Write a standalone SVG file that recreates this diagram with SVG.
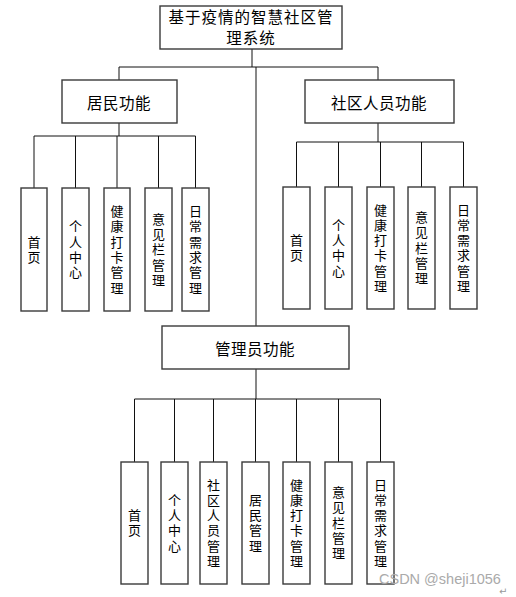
<svg xmlns="http://www.w3.org/2000/svg" width="516" height="597" viewBox="0 0 516 597">
<style>
.box{fill:#fff;stroke:#3a3a3a;stroke-width:1.4}
.ln{stroke:#111;stroke-width:1;fill:none}
.t{font-family:"Noto Sans CJK SC","Liberation Sans",sans-serif;fill:#000;text-anchor:middle}
.h{font-size:15.5px;dominant-baseline:central}
.v{font-size:13px;writing-mode:vertical-rl;text-orientation:upright;letter-spacing:2.3px}
.wm{font-family:"Liberation Sans",Arial,sans-serif;font-size:14.5px;fill:#aaa}
</style>
<rect width="516" height="597" fill="#fff"/>
<g id="connectors">
<path class="ln" d="M252 49V67M119 67H378M119 67V80M378 67V80M256 67V326"/>
<path class="ln" d="M119 123V136M34 136H195.5M34 136V188M75.5 136V188M117 136V188M158.5 136V188M195.5 136V188"/>
<path class="ln" d="M378 123V142M296.5 142H463.5M296.5 142V187M338.5 142V187M380.5 142V187M421.5 142V187M463.5 142V187"/>
<path class="ln" d="M256 369V399M134.5 399H380.5M134.5 399V462M174.5 399V462M213.5 399V462M255.5 399V462M296.5 399V462M338.5 399V462M380.5 399V462"/>
</g>
<g id="root"><rect class="box" x="160" y="6" width="182" height="43"/><text class="t h" x="251" y="16" letter-spacing="1">基于疫情的智慧社区管</text><text class="t h" x="251" y="37" letter-spacing="1">理系统</text></g>
<g id="resident"><rect class="box" x="62" y="80" width="115" height="43"/><text class="t h" x="119" y="102" letter-spacing="0.5">居民功能</text></g>
<g id="staff"><rect class="box" x="305" y="80" width="149" height="43"/><text class="t h" x="379" y="102" letter-spacing="0.5">社区人员功能</text></g>
<g id="admin"><rect class="box" x="162" y="326" width="187" height="43"/><text class="t h" x="255" y="348" letter-spacing="0.5">管理员功能</text></g>

<g id="r1"><rect class="box" x="21" y="188" width="26" height="123"/><text class="t v" x="34" y="250.5">首页</text></g>
<g id="r2"><rect class="box" x="62" y="188" width="27" height="123"/><text class="t v" x="75.5" y="250.5">个人中心</text></g>
<g id="r3"><rect class="box" x="104" y="188" width="26" height="123"/><text class="t v" x="117" y="250.5">健康打卡管理</text></g>
<g id="r4"><rect class="box" x="145" y="188" width="27" height="123"/><text class="t v" x="158.5" y="250.5">意见栏管理</text></g>
<g id="r5"><rect class="box" x="182" y="188" width="27" height="123"/><text class="t v" x="195.5" y="250.5">日常需求管理</text></g>

<g id="s1"><rect class="box" x="283" y="187" width="27" height="122"/><text class="t v" x="296.5" y="249">首页</text></g>
<g id="s2"><rect class="box" x="325" y="187" width="27" height="122"/><text class="t v" x="338.5" y="249">个人中心</text></g>
<g id="s3"><rect class="box" x="367" y="187" width="27" height="122"/><text class="t v" x="380.5" y="249">健康打卡管理</text></g>
<g id="s4"><rect class="box" x="408" y="187" width="27" height="122"/><text class="t v" x="421.5" y="249">意见栏管理</text></g>
<g id="s5"><rect class="box" x="450" y="187" width="27" height="122"/><text class="t v" x="463.5" y="249">日常需求管理</text></g>

<g id="a1"><rect class="box" x="121" y="462" width="27" height="122"/><text class="t v" x="134.5" y="524">首页</text></g>
<g id="a2"><rect class="box" x="161" y="462" width="27" height="122"/><text class="t v" x="174.5" y="524">个人中心</text></g>
<g id="a3"><rect class="box" x="200" y="462" width="27" height="122"/><text class="t v" x="213.5" y="524">社区人员管理</text></g>
<g id="a4"><rect class="box" x="242" y="462" width="27" height="122"/><text class="t v" x="255.5" y="524">居民管理</text></g>
<g id="a5"><rect class="box" x="283" y="462" width="27" height="122"/><text class="t v" x="296.5" y="524">健康打卡管理</text></g>
<g id="a6"><rect class="box" x="325" y="462" width="27" height="122"/><text class="t v" x="338.5" y="524">意见栏管理</text></g>
<g id="a7"><rect class="box" x="367" y="462" width="27" height="122"/><text class="t v" x="380.5" y="524">日常需求管理</text></g>

<text class="wm" x="379" y="584">CSDN @sheji1056</text>
<text x="499" y="595" font-family="DejaVu Sans,sans-serif" font-size="10" fill="#999">↵</text>
</svg>
